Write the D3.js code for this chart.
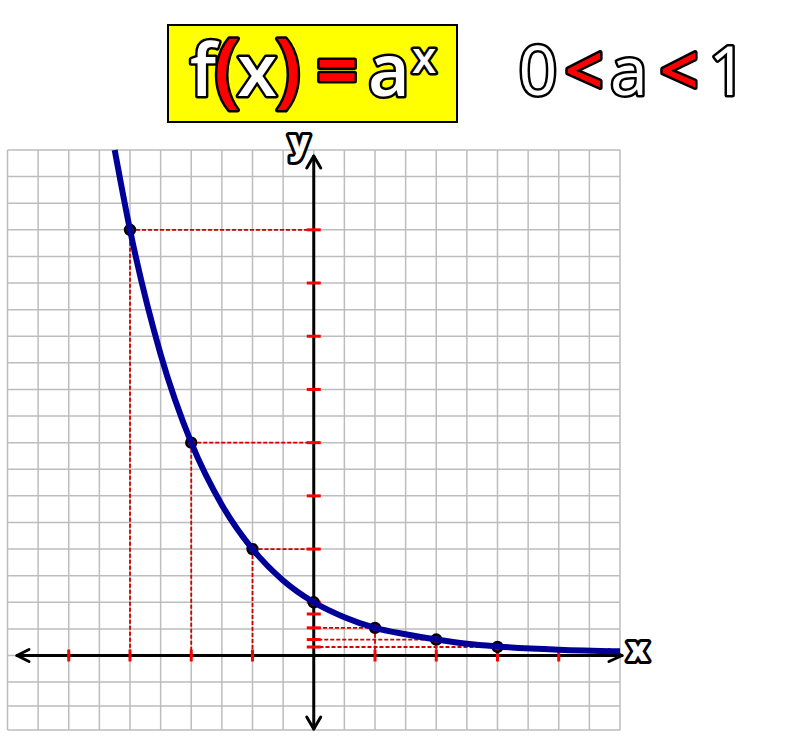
<!DOCTYPE html>
<html>
<head>
<meta charset="utf-8">
<script src="https://cdn.jsdelivr.net/npm/d3@7/dist/d3.min.js"></script>
<style>
  html, body { margin: 0; padding: 0; background: #fff; }
  svg { display: block; }
</style>
</head>
<body>
<svg id="chart" width="795" height="744"></svg>
<script>
// ---- data ----
const pointX = [-3, -2, -1, 0, 1, 2, 3];
const pointY = [8, 4, 2, 1, 0.52, 0.3, 0.16];
const curveX = [-3.25, -3, -2.5, -2, -1.5, -1, -0.5, 0, 0.5, 1, 1.5, 2, 2.5, 3, 4, 5];
const curveY = [9.5, 8, 5.66, 4, 2.83, 2, 1.41, 1, 0.72, 0.52, 0.4, 0.3, 0.22, 0.17, 0.11, 0.08];
const xTicks = [-4, -3, -2, -1, 1, 2, 3, 4];
const yTicks = [1, 2, 3, 4, 5, 6, 7, 8];
const ySmallTicks = [0.78, 0.52, 0.3, 0.16];
const gridX = d3.range(-5, 5.001, 0.5);
const gridY = d3.range(0, 9.501, 0.5).concat([-0.5, -0.95, -1.4]);
const xDomain = [-5, 5];
const yDomain = [-1.4, 9.5];

const svg = d3.select("#chart");
const x = d3.scaleLinear().domain(xDomain).range([7.5, 620]);
const y = d3.scaleLinear().domain(yDomain).range([730, 150]);

// grid
const grid = svg.append("g").attr("stroke", "#bdbdbd").attr("stroke-width", 1.5);
grid.selectAll("line.gx").data(gridX).join("line")
  .attr("x1", d => x(d)).attr("x2", d => x(d))
  .attr("y1", y(yDomain[1])).attr("y2", y(yDomain[0]));
grid.selectAll("line.gy").data(gridY).join("line")
  .attr("y1", d => y(d)).attr("y2", d => y(d))
  .attr("x1", x(xDomain[0])).attr("x2", x(xDomain[1]));

// dashed guide lines
const pts = pointX.map((d, i) => ({x: d, y: pointY[i]}));
const guides = svg.append("g").attr("stroke", "#d00000").attr("stroke-width", 1.8)
  .attr("stroke-dasharray", "4,2").attr("fill", "none");
guides.selectAll("line.h").data(pts.filter(d => d.x !== 0)).join("line")
  .attr("x1", d => x(d.x)).attr("x2", x(0) - 6)
  .attr("y1", d => y(d.y)).attr("y2", d => y(d.y));
guides.selectAll("line.v").data(pts.filter(d => d.x !== 0)).join("line")
  .attr("x1", d => x(d.x)).attr("x2", d => x(d.x))
  .attr("y1", d => y(d.y)).attr("y2", y(0));

// axes
const axes = svg.append("g").attr("stroke", "#000").attr("stroke-width", 3)
  .attr("fill", "none").attr("stroke-linecap", "round").attr("stroke-linejoin", "round");
const x0 = x(0), y0 = y(0);
const xl = 17, xr = 622, yt = 156, yb = 729;
axes.append("line").attr("x1", xl).attr("x2", xr).attr("y1", y0).attr("y2", y0);
axes.append("line").attr("x1", x0).attr("x2", x0).attr("y1", yt).attr("y2", yb);
axes.append("path").attr("d", `M${xl + 12},${y0 - 6}L${xl},${y0}L${xl + 12},${y0 + 6}`);
axes.append("path").attr("d", `M${xr - 13},${y0 - 6}L${xr},${y0}L${xr - 13},${y0 + 6}`);
axes.append("path").attr("d", `M${x0 - 7},${yt + 12}L${x0},${yt}L${x0 + 7},${yt + 12}`);
axes.append("path").attr("d", `M${x0 - 7},${yb - 12}L${x0},${yb}L${x0 + 7},${yb - 12}`);

// ticks
const ticks = svg.append("g").attr("stroke", "#ff0000").attr("stroke-width", 3);
ticks.selectAll("line.xt").data(xTicks).join("line")
  .attr("x1", d => x(d)).attr("x2", d => x(d))
  .attr("y1", y0 - 6).attr("y2", y0 + 6);
ticks.selectAll("line.yt").data(yTicks.concat(ySmallTicks)).join("line")
  .attr("x1", x0 - 7).attr("x2", x0 + 7)
  .attr("y1", d => y(d)).attr("y2", d => y(d));

// points
svg.append("g").selectAll("circle").data(pts).join("circle")
  .attr("cx", d => x(d.x)).attr("cy", d => y(d.y)).attr("r", 4.8)
  .attr("fill", "#e00000").attr("stroke", "#000").attr("stroke-width", 2.8);

// curve
const line = d3.line().x(d => x(d[0])).y(d => y(d[1])).curve(d3.curveMonotoneX);
svg.append("path").datum(curveX.map((d, i) => [d, curveY[i]]))
  .attr("d", line).attr("fill", "none").attr("stroke", "#000099")
  .attr("stroke-width", 6).attr("stroke-linecap", "butt");

// outlined text helper
function outlined(g, txt, cx, base, size, fill, weight, sw) {
  return g.append("text").attr("x", cx).attr("y", base).attr("text-anchor", "middle")
    .attr("font-family", "'Open Sans', sans-serif").attr("font-size", size)
    .attr("font-weight", weight || 400)
    .attr("fill", fill).attr("stroke", "#000").attr("stroke-width", sw || 5)
    .attr("stroke-linejoin", "round").attr("paint-order", "stroke").text(txt);
}
const labels = svg.append("g");
outlined(labels, "x", 638, 661, 34, "#fff", 800, 6);
outlined(labels, "y", 299, 154, 34, "#fff", 800, 6);

// title box
const title = svg.append("g");
title.append("rect").attr("x", 168).attr("y", 25).attr("width", 289).attr("height", 97)
  .attr("fill", "#ffff00").attr("stroke", "#000").attr("stroke-width", 2);
outlined(title, "f", 203, 96, 72, "#fff", 600, 5);
outlined(title, "(", 227, 97, 82, "#ff0000", 600, 5);
outlined(title, "x", 257, 96, 72, "#fff", 600, 5);
outlined(title, ")", 288, 97, 82, "#ff0000", 600, 5);
outlined(title, "=", 337, 96, 72, "#ff0000", 700, 5);
outlined(title, "a", 389, 96, 72, "#fff", 600, 5);
outlined(title, "x", 424, 73, 44, "#fff", 600, 5);

// condition
const cond = svg.append("g");
outlined(cond, "0", 538, 95, 68, "#fff", 400, 5);
outlined(cond, "<", 584, 95, 68, "#ff0000", 600, 5);
outlined(cond, "a", 629, 95, 68, "#fff", 400, 5);
outlined(cond, "<", 679, 95, 68, "#ff0000", 600, 5);
outlined(cond, "1", 728, 95, 68, "#fff", 400, 5);
</script>
</body>
</html>
